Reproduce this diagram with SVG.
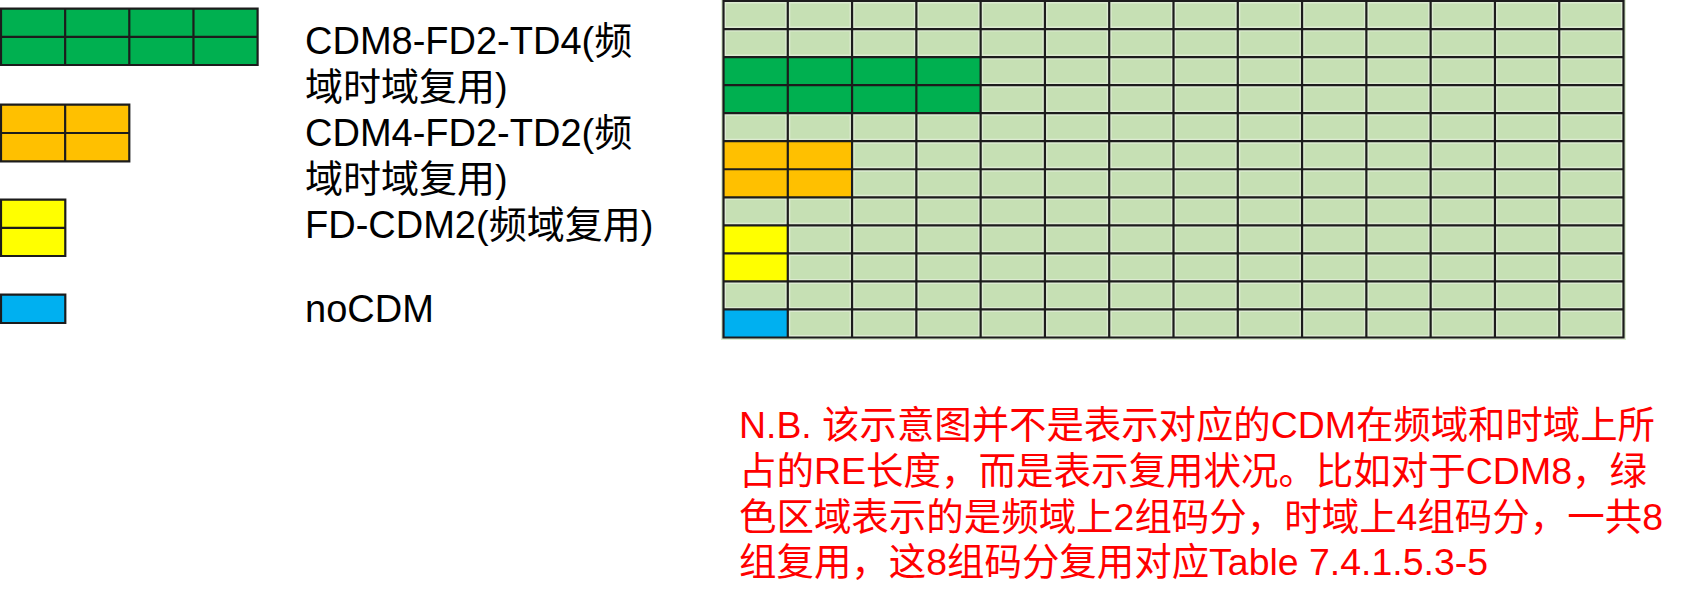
<svg xmlns="http://www.w3.org/2000/svg" width="1689" height="605" viewBox="0 0 1689 605">
<style>
.txt{font-family:"Liberation Sans","Noto Sans CJK SC",sans-serif;font-size:38px;fill:#000}
.note{font-family:"Liberation Sans","Noto Sans CJK SC",sans-serif;font-size:37.5px;fill:#FF0000}
.line{fill:none;stroke:#1c1c1c;stroke-width:2.2}
.hl{fill:none;stroke:#DDEBD2;stroke-width:5}
.g{fill:#00B050}.o{fill:#FFC000}.y{fill:#FFFF00}.b{fill:#00B0F0}.lg{fill:#C6E0B4}
</style>
<rect width="1689" height="605" fill="#fff"/>
<g id="legend-cdm8">
<rect class="g" x="1" y="8.7" width="256.6" height="56.3"/>
<path class="line" d="M1 8.7H257.6V65H1ZM1 36.85H257.6M65.15 8.7V65M129.3 8.7V65M193.45 8.7V65"/>
<text class="txt" x="305" y="54">CDM8-FD2-TD4(频</text>
<text class="txt" x="305" y="100">域时域复用)</text>
</g>
<g id="legend-cdm4">
<rect class="o" x="1" y="104.7" width="128.3" height="56.6"/>
<path class="line" d="M1 104.7H129.3V161.3H1ZM1 133H129.3M65.15 104.7V161.3"/>
<text class="txt" x="305" y="146">CDM4-FD2-TD2(频</text>
<text class="txt" x="305" y="192">域时域复用)</text>
</g>
<g id="legend-fdcdm2">
<rect class="y" x="1" y="199.7" width="64.3" height="56.3"/>
<path class="line" d="M1 199.7H65.3V256H1ZM1 227.85H65.3"/>
<text class="txt" x="305" y="238">FD-CDM2(频域复用)</text>
</g>
<g id="legend-nocdm">
<rect class="b" x="1" y="294.7" width="64.3" height="28.3"/>
<path class="line" d="M1 294.7H65.3V323H1Z"/>
<text class="txt" x="305" y="322">noCDM</text>
</g>
<g id="grid">
<rect class="lg" x="723.5" y="1" width="900" height="336.5"/>
<path class="hl" d="M787.79 1V337.5M852.07 1V337.5M916.36 1V337.5M980.64 1V337.5M1044.93 1V337.5M1109.21 1V337.5M1173.5 1V337.5M1237.79 1V337.5M1302.07 1V337.5M1366.36 1V337.5M1430.64 1V337.5M1494.93 1V337.5M1559.21 1V337.5M723.5 29.04H1623.5M723.5 57.08H1623.5M723.5 85.13H1623.5M723.5 113.17H1623.5M723.5 141.21H1623.5M723.5 169.25H1623.5M723.5 197.29H1623.5M723.5 225.33H1623.5M723.5 253.38H1623.5M723.5 281.42H1623.5M723.5 309.46H1623.5M723.5 1H1623.5V337.5H723.5Z"/>
<rect class="g" x="723.5" y="57.08" width="257.14" height="56.09"/>
<rect class="o" x="723.5" y="141.21" width="128.57" height="56.08"/>
<rect class="y" x="723.5" y="225.33" width="64.29" height="56.09"/>
<rect class="b" x="723.5" y="309.46" width="64.29" height="28.04"/>
<path class="line" d="M723.5 1H1623.5V337.5H723.5ZM787.79 1V337.5M852.07 1V337.5M916.36 1V337.5M980.64 1V337.5M1044.93 1V337.5M1109.21 1V337.5M1173.5 1V337.5M1237.79 1V337.5M1302.07 1V337.5M1366.36 1V337.5M1430.64 1V337.5M1494.93 1V337.5M1559.21 1V337.5M723.5 29.04H1623.5M723.5 57.08H1623.5M723.5 85.13H1623.5M723.5 113.17H1623.5M723.5 141.21H1623.5M723.5 169.25H1623.5M723.5 197.29H1623.5M723.5 225.33H1623.5M723.5 253.38H1623.5M723.5 281.42H1623.5M723.5 309.46H1623.5"/>
</g>
<g id="note">
<text class="note" x="739" y="438" textLength="916" lengthAdjust="spacingAndGlyphs">N.B. 该示意图并不是表示对应的CDM在频域和时域上所</text>
<text class="note" x="739" y="484" textLength="908" lengthAdjust="spacingAndGlyphs">占的RE长度，而是表示复用状况。比如对于CDM8，绿</text>
<text class="note" x="739" y="530" textLength="924" lengthAdjust="spacingAndGlyphs">色区域表示的是频域上2组码分，时域上4组码分，一共8</text>
<text class="note" x="739" y="575" textLength="749" lengthAdjust="spacingAndGlyphs">组复用，这8组码分复用对应Table 7.4.1.5.3-5</text>
</g>
</svg>
